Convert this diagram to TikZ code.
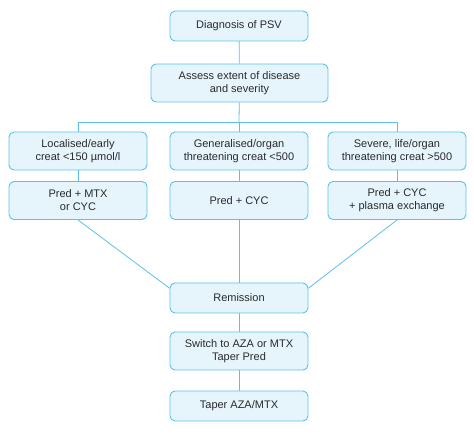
\documentclass[tikz,border=0pt]{standalone}
\usepackage{fontspec}
\setmainfont{Liberation Sans}
\usepackage{tikz}
\usetikzlibrary{calc,positioning}
\definecolor{boxline}{HTML}{5BC0EB}
\definecolor{boxfill}{HTML}{E6F5FC}
\definecolor{boxtext}{HTML}{2A2A2A}
\tikzset{
    x=1pt,y=-1pt,semithick,
    step box/.style ={rectangle, rounded corners=5pt, draw=boxline, fill=boxfill, line width=0.9pt,
        text=boxtext, align=center, minimum width=138pt, font=\fontsize{11}{13}\selectfont},
    low/.style = {minimum height=30pt},
    tall/.style = {minimum height=38pt},
    link/.style={draw=boxline, line width=0.8pt}
}
\begin{document}
\begin{tikzpicture}
    \useasboundingbox (0,0) rectangle (474,435);
    \node[step box, low] (diag) at (239,26) {Diagnosis of PSV};
    \node[step box, tall, minimum width=177pt] (assess) at (239.5,83) {Assess extent of disease\\and severity};
      \node[step box, tall] (loc) at (78,151) {Localised/early\\creat <150 µmol/l};
      \node[step box, tall] (gen) at (239,151) {Generalised/organ\\threatening creat <500};
      \node[step box, tall] (sev) at (397,151) {Severe, life/organ\\threatening creat >500};
      \node[step box, tall] (pmtx) at (78,200.5) {Pred + MTX\\or CYC};
      \node[step box, tall] (pcyc) at (239,200.5) {Pred + CYC};
      \node[step box, tall] (pplex) at (397,200.5) {Pred + CYC\\+ plasma exchange};
    \node[step box, low] (remis) at (239,298) {Remission};
    \node[step box, tall] (switch) at (239,351) {Switch to AZA or MTX\\Taper Pred};
    \node[step box, low] (taper) at (239,406) {Taper AZA/MTX};
    \coordinate (split) at (239,122);

      \path[link] (diag) edge (assess);
      \path[link] (assess) edge (split);
      \path[link] (loc.north) edge (loc.north |- split);
      \path[link] (sev.north) edge (sev.north |- split);
      \path[link] (loc.north |- split) edge (sev.north |- split);
      \path[link] (split) edge (gen);
      \path[link] (loc) edge (pmtx);
      \path[link] (gen) edge (pcyc);
      \path[link] (sev) edge (pplex);
      \path[link] (pmtx.south) edge (remis.172);
      \path[link] (pcyc) edge (remis);
      \path[link] (pplex.south) edge (remis.8);
      \path[link] (remis) edge (switch);
      \path[link] (switch) edge (taper);

\end{tikzpicture}
\end{document}
